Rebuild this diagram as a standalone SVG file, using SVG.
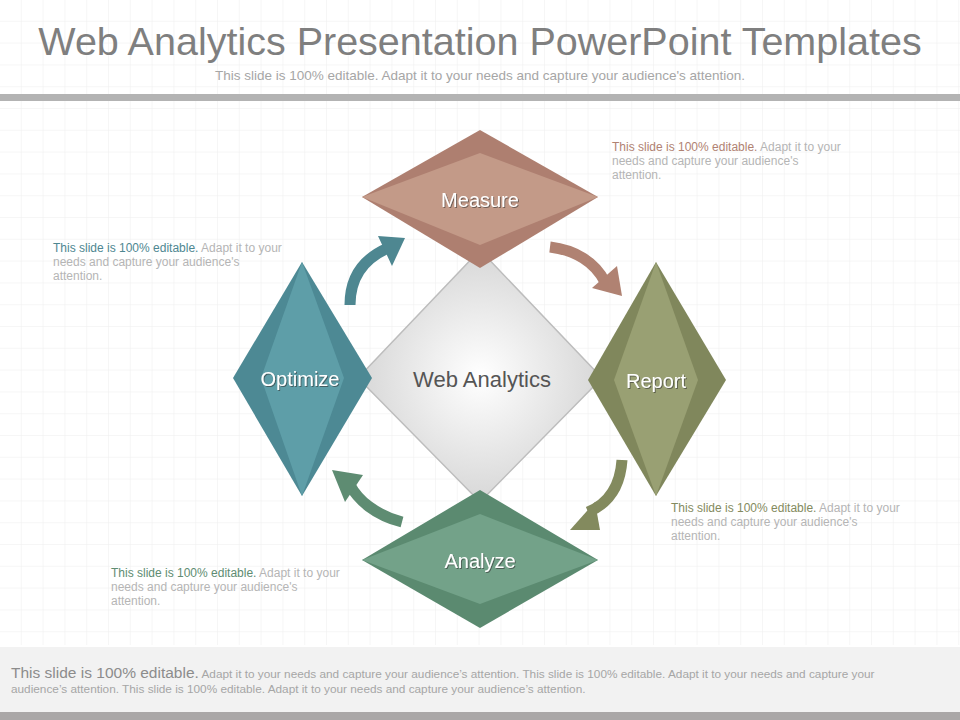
<svg xmlns="http://www.w3.org/2000/svg" width="960" height="720" viewBox="0 0 960 720">
<defs>
<pattern id="grid" width="21.8" height="21.8" patternUnits="userSpaceOnUse"><path d="M21.8 0V21.8H0" fill="none" stroke="#eeeeee" stroke-width="1"/></pattern>
<radialGradient id="cg" cx="0.5" cy="0.5" r="0.6"><stop offset="0" stop-color="#ffffff"/><stop offset="1" stop-color="#cfcfcf"/></radialGradient>
<filter id="ts"><feDropShadow dx="1" dy="1" stdDeviation="0.6" flood-color="#333" flood-opacity="0.6"/></filter>
<style>
.lbl{font-family:"Liberation Sans",Arial,sans-serif;font-size:20px;fill:#fff;text-anchor:middle;filter:url(#ts)}
.note{font-family:"Liberation Sans",Arial,sans-serif;font-size:12px;fill:#b5b5b5}
.arr{fill:none;stroke-width:11}
</style>
</defs>
<rect width="960" height="720" fill="#fff"/>
<rect width="960" height="645" fill="url(#grid)"/>
<text x="480" y="55" font-family="Liberation Sans,Arial,sans-serif" font-size="39.5" fill="#7f7f7f" text-anchor="middle">Web Analytics Presentation PowerPoint Templates</text>
<text x="480" y="80" font-family="Liberation Sans,Arial,sans-serif" font-size="13.5" fill="#a6a6a6" text-anchor="middle">This slide is 100% editable. Adapt it to your needs and capture your audience's attention.</text>
<rect x="0" y="94" width="960" height="7" fill="#b3b3b3"/>

<g id="center">
<polygon points="480,250 602,378 480,502 358,378" fill="url(#cg)" stroke="#bdbdbd" stroke-width="1.5"/>
<text x="482" y="387" font-family="Liberation Sans,Arial,sans-serif" font-size="22" fill="#555" text-anchor="middle">Web Analytics</text>
</g>

<g id="connectors">
<path class="arr" stroke="#4e8791" d="M350,305 C350,275 365,258 388,248"/>
<polygon points="378,236 405,238 392,266" fill="#4e8791"/>
<path class="arr" stroke="#b08272" d="M550,247 C575,250 595,262 605,282"/>
<polygon points="592,288 622,296 617,266" fill="#b08272"/>
<path class="arr" stroke="#838a5e" d="M622,460 C620,490 605,505 588,512"/>
<polygon points="595,502 570,530 600,530" fill="#838a5e"/>
<path class="arr" stroke="#5e8c72" d="M402,522 C375,515 358,500 350,485"/>
<polygon points="332,470 363,475 345,502" fill="#5e8c72"/>
</g>

<g id="measure">
<polygon points="362,197 480,130 598,197 480,268" fill="#ae7f70"/>
<polygon points="362,197 480,153 598,197 480,245" fill="#c39a88"/>
<text class="lbl" x="480" y="207">Measure</text>
</g>
<g id="report">
<polygon points="656,262 726,380 656,496 588,380" fill="#80875c"/>
<polygon points="656,262 698,380 656,496 614,380" fill="#99a073"/>
<text class="lbl" x="656" y="388">Report</text>
</g>
<g id="analyze">
<polygon points="362,560 480,490 598,560 480,628" fill="#5b8a70"/>
<polygon points="362,560 480,514 598,560 480,604" fill="#73a289"/>
<text class="lbl" x="480" y="568">Analyze</text>
</g>
<g id="optimize">
<polygon points="302,262 372,378 302,496 233,378" fill="#4d8994"/>
<polygon points="302,262 344,378 302,496 261,378" fill="#5e9ea8"/>
<text class="lbl" x="300" y="386">Optimize</text>
</g>

<g id="notes">
<text class="note" x="612" y="151"><tspan fill="#b08272">This slide is 100% editable.</tspan> Adapt it to your</text>
<text class="note" x="612" y="165">needs and capture your audience's</text>
<text class="note" x="612" y="179">attention.</text>
<text class="note" x="53" y="252"><tspan fill="#4e8791">This slide is 100% editable.</tspan> Adapt it to your</text>
<text class="note" x="53" y="266">needs and capture your audience's</text>
<text class="note" x="53" y="280">attention.</text>
<text class="note" x="671" y="512"><tspan fill="#838a5e">This slide is 100% editable.</tspan> Adapt it to your</text>
<text class="note" x="671" y="526">needs and capture your audience's</text>
<text class="note" x="671" y="540">attention.</text>
<text class="note" x="111" y="577"><tspan fill="#5e8c72">This slide is 100% editable.</tspan> Adapt it to your</text>
<text class="note" x="111" y="591">needs and capture your audience's</text>
<text class="note" x="111" y="605">attention.</text>
</g>

<rect x="0" y="647" width="960" height="65" fill="#f2f2f2"/>
<text x="11" y="678" font-family="Liberation Sans,Arial,sans-serif" font-size="11.8" fill="#a6a6a6"><tspan font-size="15.5" fill="#8c8c8c">This slide is 100% editable.</tspan> Adapt it to your needs and capture your audience’s attention. This slide is 100% editable. Adapt it to your needs and capture your</text>
<text x="11" y="693" font-family="Liberation Sans,Arial,sans-serif" font-size="11.8" fill="#a6a6a6">audience’s attention. This slide is 100% editable. Adapt it to your needs and capture your audience’s attention.</text>
<rect x="0" y="712" width="960" height="8" fill="#aaa7a7"/>
</svg>
